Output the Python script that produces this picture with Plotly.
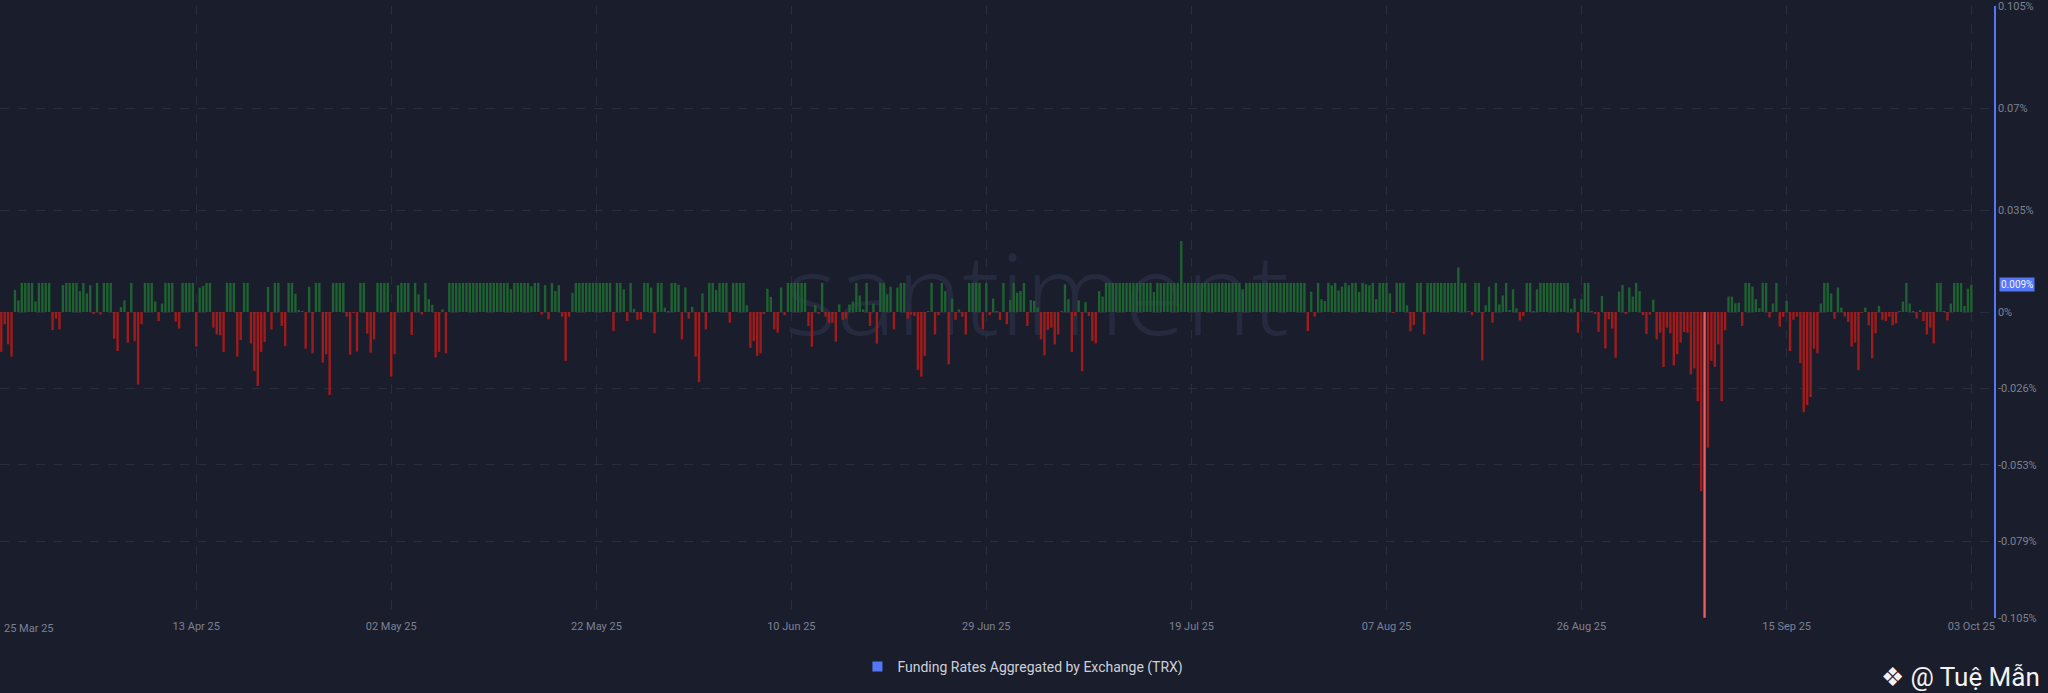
import pandas as pd
import plotly.graph_objects as go

# funding rate per 8h interval, in thousandths of a percent (10 -> 0.010%)
rates_part1 = [
    -13.7, -4.2, -11.1, -15.3, 7.6, 4.0, 10, 10, 10, 10,
    3.6, 10, 10, 10, 10, -6.2, -2.3, -6.0, 9.2, 10,
    10, 10, 10, 7.2, 10, 6.4, 9.2, -0.5, 10, -0.9,
    10, 10, 10, -9.2, -13.4, 1.7, 4.0, -10.5, 10, -10,
    -24.9, -4.2, 10, 10, 10, 3.6, -3.1, 2.9, 10, 10,
    10, -3.3, -5.7, 10, 10, 10, 10, -11.9, 8.4, 8.9,
    10, 10, -5.4, -7.7, -8.0, -13.7, 10, 10, 10, -15.3,
    -9.6, 10, 10, -10.8, -20.3, -25.4, -13.7, -10.3, 8.6, -6.0,
    10, 10, -4.8, -11.7, 10, 10, 6.3, 0.7, 0.3, -12.6,
    8.7, -14.2, 10, 10, -17.4, -14.5, -28.5, 10, 10, 10,
    10, -1.6, -14.7, -0.3, -13.6, 10, 10, -7.4, -14.0, -9.4,
    10, 10, 10, 10, -22.2, -14.5, 9.2,
]
rates_part2 = [
    10, 10, 10, -7.9, 10, 6.1, -0.9, 10, 4.4, 2.5,
    -15.6, -13.7, 0.9, -14.2, 10, 10, 10, 10, 10, 10,
    10, 10, 10, 10, 10, 10, 10, 10, 10, 10,
    10, 10, 7.8, 10, 10, 10, 10, 10, 8.8, 10,
    10, -0.9, 9.2, -2.5, 10, 7.2, 9.2, -1.6, -16.8, -1.6,
    6.6, 10, 10, 10, 10, 10, 10, 10, 10, 10,
    10, 10, -6.5, 10, 10, 7.8, -3.1, 10, 1.1, -2.7,
    -2.5, 10, 10, 8.4, -7.3, 10, 10, 1.5, 0.2, 10,
    10, 9.4, -9.4, 8.4, -2.3, 1.8, -15.3, -24.1, 6.4, -6.0,
    10, 10, 7.6, 10, 10, 10, -3.7, 10, 10, 10,
    10, 2.3, -12.3, -10.0, -15.1, -14.2, -0.5, 8.0, 5.2, -6.0,
    -7.1, 8.4, -1.1, 10, 10, 10, 10, 10,
]
rates_part3 = [
    10, -4.8, -11.9, 2.3, -0.5, 10, -1.6, -3.7, -3.7, -10.2,
    2.6, -2.7, -2.3, 2.6, 3.6, 10, 5.7, 0.9, 10, -4.8,
    2.9, -10.9, 10, 10, 6.1, 8.7, -6.0, 8.4, 10, 10,
    -2.3, -0.9, -1.4, -19.9, -22.2, -15.1, 0.3, 10, -7.7, -1.1,
    10, 7.2, -18.0, 4.6, -2.7, 0.9, -1.6, -7.7, 10, 10,
    10, 10, -6.0, 10, -1.1, 4.6, 0.2, -2.7, 10, -4.2,
    4.1, 10, 6.6, 7.2, 10, -4.8, 4.1, 3.8, 1.5, -9.4,
    -14.9, -6.2, -5.4, -11.1, -7.7, 0.2, 9.5, 4.4, -13.7, -1.4,
    4.0, -20.3, 3.4, -1.4, -10.0, -10.8, 7.2, 5.3, 10, 10,
    10, 10, 10, 10, 10, 10, 10, 10, 10, 10,
    10, 10, 6.9, 10, 10, 10, 10, 10, 10, 10,
    24.4, 10, 10, 10, 10, 10, 10,
]
rates_part4 = [
    10, 10, 10, 10, 10, 10, 10, 10, 10, 10,
    10, 7.8, 10, 10, 10, 10, 10, 10, 10, 10,
    10, 10, 10, 10, 10, 10, 10, 10, 10, 10,
    -6.5, 7.0, -1.6, 10, 4.4, 3.8, 10, 9.2, 10, 7.4,
    8.7, 10, 9.2, 10, 10, 6.9, 10, 9.5, 9.2, 10,
    4.4, 10, 10, 10, 6.4, -0.3, 10, 10, 10, 2.3,
    -6.6, -4.5, 10, 10, -7.7, 10, 10, 10, 10, 10,
    10, 10, 10, 10, 15.3, 10, 10, 0.1, -1.1, 10,
    10, -16.6, 2.3, 8.7, -3.7, 10, 2.6, 5.7, 10, 0.6,
    7.8, 1.3, -2.9, -1.4, 10, 10, 0.3, 7.8, 10, 10,
    10, 10, 10, 10, 10, 10, 10, 1.1, 4.6, -7.1,
    4.4, 10, 10, 0.2, -0.5, -6.8, 5.5,
]
rates_part5 = [
    -12.5, -2.5, -5.7, -15.7, 7.0, 9.3, -0.5, 8.4, 5.3, 10,
    7.2, -1.1, -7.6, -0.9, 4.2, -9.4, -7.1, -18.9, -5.4, -7.3,
    -18.3, -14.5, -10.5, -6.9, -7.1, -21.4, -19.4, -30.6, -61.5, -105,
    -46.6, -16.8, -18.8, -11.1, -30.6, -6.3, 5.3, 5.3, 3.0, 3.2,
    -4.8, 10, 10, 8.7, 4.4, 1.3, 10, 10, -1.9, 2.9,
    10, -5.0, -1.7, 3.8, -13.4, -2.7, -1.6, -17.6, -34.4, -32,
    -29.2, -12.6, -14.2, 2.9, 10, 10, 6.4, -2.3, 8.4, 1.5,
    -1.6, -3.4, -11.9, -10.5, -20.0, -0.2, 1.5, -4.6, -15.9, -7.3,
    2.1, -2.7, -3.1, -1.6, -4.6, -3.9, 0.1, 3.6, 10, 2.9,
    0.2, -2.2, 0.6, -3.1, -7.7, -5.4, -10.8, 10, 10, 0.2,
    -2.9, 2.9, 10, 10, 10, 2.1, 8.0, 9.3,
]

x_tick_dates = [
    "2025-04-13", "2025-05-02", "2025-05-22", "2025-06-10", "2025-06-29",
    "2025-07-19", "2025-08-07", "2025-08-26", "2025-09-15", "2025-10-03",
]
y_tick_vals = [0.105, 0.07, 0.035, 0, -0.02625, -0.0525, -0.07875, -0.105]
y_tick_text = ["0.105%", "0.07%", "0.035%", "0%", "-0.026%", "-0.053%", "-0.079%", "-0.105%"]

BG = "#1a1d2b"
GRID = "#292d3e"
TICK = "#7c8195"
GREEN = "#1d6230"
RED = "#a01b1b"
HIGHLIGHT = "#f05a5a"
BLUE = "#5576f7"

rates = rates_part1 + rates_part2 + rates_part3 + rates_part4 + rates_part5
dates = pd.date_range("2025-03-25", periods=len(rates), freq="8h")
values = [r / 1000 for r in rates]  # in percent

lowest = min(rates)
colors = [HIGHLIGHT if r == lowest else (GREEN if r > 0 else RED) for r in rates]

fig = go.Figure()
fig.add_trace(
    go.Bar(
        x=dates,
        y=values,
        marker_color=colors,
        marker_line_width=0,
        showlegend=False,
        hovertemplate="%{x}<br>%{y:.4f}%<extra></extra>",
    )
)
# legend entry only
fig.add_trace(
    go.Scatter(
        x=[None],
        y=[None],
        mode="markers",
        marker=dict(symbol="square", size=10, color=BLUE),
        name="Funding Rates Aggregated by Exchange (TRX)",
    )
)

fig.update_layout(
    width=2048,
    height=693,
    paper_bgcolor=BG,
    plot_bgcolor=BG,
    bargap=0.3,
    margin={"t": 6, "l": 0, "r": 54, "b": 75},
    font=dict(family="Roboto", color=TICK),
    xaxis=dict(
        type="date",
        range=["2025-03-24 21:00", "2025-10-05 05:00"],
        tickvals=x_tick_dates,
        tickformat="%d %b %y",
        tickfont=dict(size=11, color=TICK),
        showgrid=True,
        gridcolor=GRID,
        griddash="dash",
        zeroline=False,
        showline=False,
        ticks="",
        automargin=False,
    ),
    yaxis=dict(
        side="right",
        range=[-0.1051, 0.1051],
        tickvals=y_tick_vals,
        ticktext=y_tick_text,
        tickfont=dict(size=11, color=TICK),
        showgrid=True,
        gridcolor=GRID,
        griddash="dash",
        zeroline=False,
        showline=True,
        linecolor=BLUE,
        linewidth=1.5,
        ticks="",
        ticklabeloverflow="allow",
        automargin=False,
    ),
    legend=dict(
        orientation="h",
        x=0.513,
        xanchor="center",
        y=-0.08,
        yanchor="middle",
        font=dict(size=14, color="#cdd0da"),
        bgcolor="rgba(0,0,0,0)",
    ),
)

# faint santiment watermark behind the bars
fig.add_shape(
    type="rect",
    xref="paper",
    yref="paper",
    x0=0.28,
    x1=0.76,
    y0=0.38,
    y1=0.66,
    line_width=0,
    fillcolor="rgba(0,0,0,0)",
    layer="below",
    label=dict(
        text="santiment",
        textposition="middle center",
        font=dict(family="Open Sans", size=112, color="#262a3f", weight=300),
    ),
)

# first date label, left aligned at the edge
fig.add_annotation(
    text="25 Mar 25",
    xref="paper",
    yref="paper",
    x=0,
    y=0,
    xanchor="left",
    yanchor="top",
    xshift=2,
    yshift=-2,
    showarrow=False,
    font=dict(size=11, color=TICK),
)

# last value marker on the price axis
fig.add_annotation(
    text=f"{values[-1]:.3f}%",
    xref="paper",
    yref="y",
    x=1,
    y=values[-1],
    xanchor="left",
    xshift=5,
    showarrow=False,
    bgcolor=BLUE,
    borderpad=1,
    font=dict(size=10, color="#eef1ff"),
)

# author tag, bottom right
fig.add_annotation(
    text="❖ @ Tuệ Mẫn",
    xref="paper",
    yref="paper",
    x=1.024,
    y=-0.096,
    xanchor="right",
    yanchor="middle",
    showarrow=False,
    font=dict(family="Roboto", size=26, color="#f2f2f2"),
)

fig.write_html(
    "out.html",
    config={"displayModeBar": False},
    post_script="document.body.style.margin='0';document.body.style.background='#1a1d2b';",
)
